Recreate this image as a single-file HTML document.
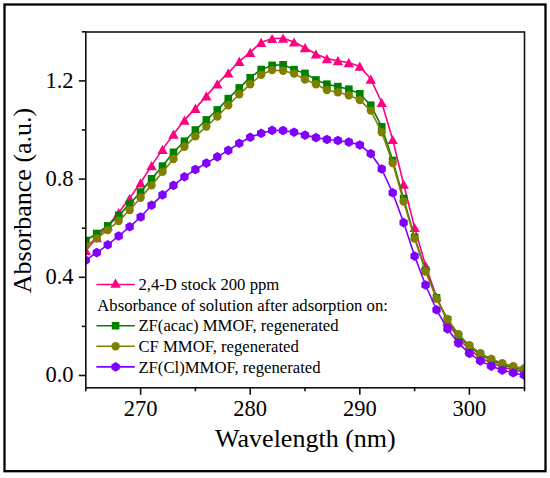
<!DOCTYPE html>
<html><head><meta charset="utf-8"><style>
html,body{margin:0;padding:0;background:#fff;}
svg{display:block;}
text{font-family:"Liberation Serif", serif;fill:#000;}
</style></head><body>
<svg width="550" height="478" viewBox="0 0 550 478">
<rect x="0" y="0" width="550" height="478" fill="#fff"/>
<rect x="4.5" y="4.5" width="541" height="466.7" fill="none" stroke="#000" stroke-width="2.3"/>
<defs><clipPath id="pc"><rect x="85.8" y="32.0" width="438.7" height="355.8"/></clipPath></defs>
<g clip-path="url(#pc)">
<polyline points="85.80,250.40 96.76,237.70 107.72,226.00 118.68,212.60 129.64,198.30 140.60,182.80 151.56,165.60 162.52,149.40 173.48,134.20 184.44,120.10 195.40,108.40 206.36,95.90 217.32,83.80 228.28,72.90 239.24,61.30 250.20,52.30 261.16,42.40 272.12,38.50 283.08,38.20 294.04,42.00 305.00,47.70 315.96,54.00 326.92,58.60 337.88,60.70 348.84,62.70 359.80,66.20 370.76,79.10 381.72,102.50 392.68,139.50 403.64,184.20 414.60,227.50 425.56,265.50 436.52,297.00 447.48,321.50 458.44,338.50 469.40,349.50 480.36,357.50 491.32,363.00 502.28,367.10 513.24,369.60 524.20,372.10" fill="none" stroke="#ff0080" stroke-width="1.6" stroke-linejoin="round"/>
<path d="M85.80,245.80L91.00,255.00L80.60,255.00Z" fill="#ff0080"/>
<path d="M96.76,233.10L101.96,242.30L91.56,242.30Z" fill="#ff0080"/>
<path d="M107.72,221.40L112.92,230.60L102.52,230.60Z" fill="#ff0080"/>
<path d="M118.68,208.00L123.88,217.20L113.48,217.20Z" fill="#ff0080"/>
<path d="M129.64,193.70L134.84,202.90L124.44,202.90Z" fill="#ff0080"/>
<path d="M140.60,178.20L145.80,187.40L135.40,187.40Z" fill="#ff0080"/>
<path d="M151.56,161.00L156.76,170.20L146.36,170.20Z" fill="#ff0080"/>
<path d="M162.52,144.80L167.72,154.00L157.32,154.00Z" fill="#ff0080"/>
<path d="M173.48,129.60L178.68,138.80L168.28,138.80Z" fill="#ff0080"/>
<path d="M184.44,115.50L189.64,124.70L179.24,124.70Z" fill="#ff0080"/>
<path d="M195.40,103.80L200.60,113.00L190.20,113.00Z" fill="#ff0080"/>
<path d="M206.36,91.30L211.56,100.50L201.16,100.50Z" fill="#ff0080"/>
<path d="M217.32,79.20L222.52,88.40L212.12,88.40Z" fill="#ff0080"/>
<path d="M228.28,68.30L233.48,77.50L223.08,77.50Z" fill="#ff0080"/>
<path d="M239.24,56.70L244.44,65.90L234.04,65.90Z" fill="#ff0080"/>
<path d="M250.20,47.70L255.40,56.90L245.00,56.90Z" fill="#ff0080"/>
<path d="M261.16,37.80L266.36,47.00L255.96,47.00Z" fill="#ff0080"/>
<path d="M272.12,33.90L277.32,43.10L266.92,43.10Z" fill="#ff0080"/>
<path d="M283.08,33.60L288.28,42.80L277.88,42.80Z" fill="#ff0080"/>
<path d="M294.04,37.40L299.24,46.60L288.84,46.60Z" fill="#ff0080"/>
<path d="M305.00,43.10L310.20,52.30L299.80,52.30Z" fill="#ff0080"/>
<path d="M315.96,49.40L321.16,58.60L310.76,58.60Z" fill="#ff0080"/>
<path d="M326.92,54.00L332.12,63.20L321.72,63.20Z" fill="#ff0080"/>
<path d="M337.88,56.10L343.08,65.30L332.68,65.30Z" fill="#ff0080"/>
<path d="M348.84,58.10L354.04,67.30L343.64,67.30Z" fill="#ff0080"/>
<path d="M359.80,61.60L365.00,70.80L354.60,70.80Z" fill="#ff0080"/>
<path d="M370.76,74.50L375.96,83.70L365.56,83.70Z" fill="#ff0080"/>
<path d="M381.72,97.90L386.92,107.10L376.52,107.10Z" fill="#ff0080"/>
<path d="M392.68,134.90L397.88,144.10L387.48,144.10Z" fill="#ff0080"/>
<path d="M403.64,179.60L408.84,188.80L398.44,188.80Z" fill="#ff0080"/>
<path d="M414.60,222.90L419.80,232.10L409.40,232.10Z" fill="#ff0080"/>
<path d="M425.56,260.90L430.76,270.10L420.36,270.10Z" fill="#ff0080"/>
<path d="M436.52,292.40L441.72,301.60L431.32,301.60Z" fill="#ff0080"/>
<path d="M447.48,316.90L452.68,326.10L442.28,326.10Z" fill="#ff0080"/>
<path d="M458.44,333.90L463.64,343.10L453.24,343.10Z" fill="#ff0080"/>
<path d="M469.40,344.90L474.60,354.10L464.20,354.10Z" fill="#ff0080"/>
<path d="M480.36,352.90L485.56,362.10L475.16,362.10Z" fill="#ff0080"/>
<path d="M491.32,358.40L496.52,367.60L486.12,367.60Z" fill="#ff0080"/>
<path d="M502.28,362.50L507.48,371.70L497.08,371.70Z" fill="#ff0080"/>
<path d="M513.24,365.00L518.44,374.20L508.04,374.20Z" fill="#ff0080"/>
<path d="M524.20,367.50L529.40,376.70L519.00,376.70Z" fill="#ff0080"/>
<polyline points="85.80,240.50 96.76,233.50 107.72,225.90 118.68,215.40 129.64,204.00 140.60,192.00 151.56,178.80 162.52,166.10 173.48,152.30 184.44,141.20 195.40,130.00 206.36,119.90 217.32,109.90 228.28,98.60 239.24,87.90 250.20,77.70 261.16,69.50 272.12,65.40 283.08,64.80 294.04,69.60 305.00,73.40 315.96,79.90 326.92,84.20 337.88,86.60 348.84,89.20 359.80,93.80 370.76,105.20 381.72,126.80 392.68,160.50 403.64,198.60 414.60,237.30 425.56,270.30 436.52,297.80 447.48,319.80 458.44,335.70 469.40,346.70 480.36,354.60 491.32,360.40 502.28,364.70 513.24,367.70 524.20,370.00" fill="none" stroke="#008000" stroke-width="1.6" stroke-linejoin="round"/>
<rect x="82.00" y="236.70" width="7.6" height="7.6" fill="#008000"/>
<rect x="92.96" y="229.70" width="7.6" height="7.6" fill="#008000"/>
<rect x="103.92" y="222.10" width="7.6" height="7.6" fill="#008000"/>
<rect x="114.88" y="211.60" width="7.6" height="7.6" fill="#008000"/>
<rect x="125.84" y="200.20" width="7.6" height="7.6" fill="#008000"/>
<rect x="136.80" y="188.20" width="7.6" height="7.6" fill="#008000"/>
<rect x="147.76" y="175.00" width="7.6" height="7.6" fill="#008000"/>
<rect x="158.72" y="162.30" width="7.6" height="7.6" fill="#008000"/>
<rect x="169.68" y="148.50" width="7.6" height="7.6" fill="#008000"/>
<rect x="180.64" y="137.40" width="7.6" height="7.6" fill="#008000"/>
<rect x="191.60" y="126.20" width="7.6" height="7.6" fill="#008000"/>
<rect x="202.56" y="116.10" width="7.6" height="7.6" fill="#008000"/>
<rect x="213.52" y="106.10" width="7.6" height="7.6" fill="#008000"/>
<rect x="224.48" y="94.80" width="7.6" height="7.6" fill="#008000"/>
<rect x="235.44" y="84.10" width="7.6" height="7.6" fill="#008000"/>
<rect x="246.40" y="73.90" width="7.6" height="7.6" fill="#008000"/>
<rect x="257.36" y="65.70" width="7.6" height="7.6" fill="#008000"/>
<rect x="268.32" y="61.60" width="7.6" height="7.6" fill="#008000"/>
<rect x="279.28" y="61.00" width="7.6" height="7.6" fill="#008000"/>
<rect x="290.24" y="65.80" width="7.6" height="7.6" fill="#008000"/>
<rect x="301.20" y="69.60" width="7.6" height="7.6" fill="#008000"/>
<rect x="312.16" y="76.10" width="7.6" height="7.6" fill="#008000"/>
<rect x="323.12" y="80.40" width="7.6" height="7.6" fill="#008000"/>
<rect x="334.08" y="82.80" width="7.6" height="7.6" fill="#008000"/>
<rect x="345.04" y="85.40" width="7.6" height="7.6" fill="#008000"/>
<rect x="356.00" y="90.00" width="7.6" height="7.6" fill="#008000"/>
<rect x="366.96" y="101.40" width="7.6" height="7.6" fill="#008000"/>
<rect x="377.92" y="123.00" width="7.6" height="7.6" fill="#008000"/>
<rect x="388.88" y="156.70" width="7.6" height="7.6" fill="#008000"/>
<rect x="399.84" y="194.80" width="7.6" height="7.6" fill="#008000"/>
<rect x="410.80" y="233.50" width="7.6" height="7.6" fill="#008000"/>
<rect x="421.76" y="266.50" width="7.6" height="7.6" fill="#008000"/>
<rect x="432.72" y="294.00" width="7.6" height="7.6" fill="#008000"/>
<rect x="443.68" y="316.00" width="7.6" height="7.6" fill="#008000"/>
<rect x="454.64" y="331.90" width="7.6" height="7.6" fill="#008000"/>
<rect x="465.60" y="342.90" width="7.6" height="7.6" fill="#008000"/>
<rect x="476.56" y="350.80" width="7.6" height="7.6" fill="#008000"/>
<rect x="487.52" y="356.60" width="7.6" height="7.6" fill="#008000"/>
<rect x="498.48" y="360.90" width="7.6" height="7.6" fill="#008000"/>
<rect x="509.44" y="363.90" width="7.6" height="7.6" fill="#008000"/>
<rect x="520.40" y="366.20" width="7.6" height="7.6" fill="#008000"/>
<polyline points="85.80,245.90 96.76,238.40 107.72,230.10 118.68,221.00 129.64,210.00 140.60,197.80 151.56,185.40 162.52,171.90 173.48,159.00 184.44,146.80 195.40,136.40 206.36,126.60 217.32,116.50 228.28,105.20 239.24,94.30 250.20,84.30 261.16,74.80 272.12,70.10 283.08,70.70 294.04,73.60 305.00,79.50 315.96,84.30 326.92,90.00 337.88,92.30 348.84,95.20 359.80,100.10 370.76,110.60 381.72,132.20 392.68,163.00 403.64,201.50 414.60,238.60 425.56,271.50 436.52,298.80 447.48,319.00 458.44,334.30 469.40,345.20 480.36,353.20 491.32,358.90 502.28,363.30 513.24,366.20 524.20,368.50" fill="none" stroke="#808000" stroke-width="1.6" stroke-linejoin="round"/>
<circle cx="85.80" cy="245.90" r="4.2" fill="#808000"/>
<circle cx="96.76" cy="238.40" r="4.2" fill="#808000"/>
<circle cx="107.72" cy="230.10" r="4.2" fill="#808000"/>
<circle cx="118.68" cy="221.00" r="4.2" fill="#808000"/>
<circle cx="129.64" cy="210.00" r="4.2" fill="#808000"/>
<circle cx="140.60" cy="197.80" r="4.2" fill="#808000"/>
<circle cx="151.56" cy="185.40" r="4.2" fill="#808000"/>
<circle cx="162.52" cy="171.90" r="4.2" fill="#808000"/>
<circle cx="173.48" cy="159.00" r="4.2" fill="#808000"/>
<circle cx="184.44" cy="146.80" r="4.2" fill="#808000"/>
<circle cx="195.40" cy="136.40" r="4.2" fill="#808000"/>
<circle cx="206.36" cy="126.60" r="4.2" fill="#808000"/>
<circle cx="217.32" cy="116.50" r="4.2" fill="#808000"/>
<circle cx="228.28" cy="105.20" r="4.2" fill="#808000"/>
<circle cx="239.24" cy="94.30" r="4.2" fill="#808000"/>
<circle cx="250.20" cy="84.30" r="4.2" fill="#808000"/>
<circle cx="261.16" cy="74.80" r="4.2" fill="#808000"/>
<circle cx="272.12" cy="70.10" r="4.2" fill="#808000"/>
<circle cx="283.08" cy="70.70" r="4.2" fill="#808000"/>
<circle cx="294.04" cy="73.60" r="4.2" fill="#808000"/>
<circle cx="305.00" cy="79.50" r="4.2" fill="#808000"/>
<circle cx="315.96" cy="84.30" r="4.2" fill="#808000"/>
<circle cx="326.92" cy="90.00" r="4.2" fill="#808000"/>
<circle cx="337.88" cy="92.30" r="4.2" fill="#808000"/>
<circle cx="348.84" cy="95.20" r="4.2" fill="#808000"/>
<circle cx="359.80" cy="100.10" r="4.2" fill="#808000"/>
<circle cx="370.76" cy="110.60" r="4.2" fill="#808000"/>
<circle cx="381.72" cy="132.20" r="4.2" fill="#808000"/>
<circle cx="392.68" cy="163.00" r="4.2" fill="#808000"/>
<circle cx="403.64" cy="201.50" r="4.2" fill="#808000"/>
<circle cx="414.60" cy="238.60" r="4.2" fill="#808000"/>
<circle cx="425.56" cy="271.50" r="4.2" fill="#808000"/>
<circle cx="436.52" cy="298.80" r="4.2" fill="#808000"/>
<circle cx="447.48" cy="319.00" r="4.2" fill="#808000"/>
<circle cx="458.44" cy="334.30" r="4.2" fill="#808000"/>
<circle cx="469.40" cy="345.20" r="4.2" fill="#808000"/>
<circle cx="480.36" cy="353.20" r="4.2" fill="#808000"/>
<circle cx="491.32" cy="358.90" r="4.2" fill="#808000"/>
<circle cx="502.28" cy="363.30" r="4.2" fill="#808000"/>
<circle cx="513.24" cy="366.20" r="4.2" fill="#808000"/>
<circle cx="524.20" cy="368.50" r="4.2" fill="#808000"/>
<polyline points="85.80,260.20 96.76,252.60 107.72,244.80 118.68,236.00 129.64,226.80 140.60,217.00 151.56,205.20 162.52,194.90 173.48,185.40 184.44,176.80 195.40,169.50 206.36,163.10 217.32,156.90 228.28,150.40 239.24,143.30 250.20,137.30 261.16,133.30 272.12,130.40 283.08,130.50 294.04,132.20 305.00,135.10 315.96,137.60 326.92,139.50 337.88,140.50 348.84,142.10 359.80,145.00 370.76,153.70 381.72,169.00 392.68,192.80 403.64,222.60 414.60,256.10 425.56,285.00 436.52,309.80 447.48,328.90 458.44,343.10 469.40,353.40 480.36,360.90 491.32,366.10 502.28,370.20 513.24,372.80 524.20,375.20" fill="none" stroke="#8000ff" stroke-width="1.6" stroke-linejoin="round"/>
<polygon points="85.80,255.40 89.96,257.80 89.96,262.60 85.80,265.00 81.64,262.60 81.64,257.80" fill="#8000ff"/>
<polygon points="96.76,247.80 100.92,250.20 100.92,255.00 96.76,257.40 92.60,255.00 92.60,250.20" fill="#8000ff"/>
<polygon points="107.72,240.00 111.88,242.40 111.88,247.20 107.72,249.60 103.56,247.20 103.56,242.40" fill="#8000ff"/>
<polygon points="118.68,231.20 122.84,233.60 122.84,238.40 118.68,240.80 114.52,238.40 114.52,233.60" fill="#8000ff"/>
<polygon points="129.64,222.00 133.80,224.40 133.80,229.20 129.64,231.60 125.48,229.20 125.48,224.40" fill="#8000ff"/>
<polygon points="140.60,212.20 144.76,214.60 144.76,219.40 140.60,221.80 136.44,219.40 136.44,214.60" fill="#8000ff"/>
<polygon points="151.56,200.40 155.72,202.80 155.72,207.60 151.56,210.00 147.40,207.60 147.40,202.80" fill="#8000ff"/>
<polygon points="162.52,190.10 166.68,192.50 166.68,197.30 162.52,199.70 158.36,197.30 158.36,192.50" fill="#8000ff"/>
<polygon points="173.48,180.60 177.64,183.00 177.64,187.80 173.48,190.20 169.32,187.80 169.32,183.00" fill="#8000ff"/>
<polygon points="184.44,172.00 188.60,174.40 188.60,179.20 184.44,181.60 180.28,179.20 180.28,174.40" fill="#8000ff"/>
<polygon points="195.40,164.70 199.56,167.10 199.56,171.90 195.40,174.30 191.24,171.90 191.24,167.10" fill="#8000ff"/>
<polygon points="206.36,158.30 210.52,160.70 210.52,165.50 206.36,167.90 202.20,165.50 202.20,160.70" fill="#8000ff"/>
<polygon points="217.32,152.10 221.48,154.50 221.48,159.30 217.32,161.70 213.16,159.30 213.16,154.50" fill="#8000ff"/>
<polygon points="228.28,145.60 232.44,148.00 232.44,152.80 228.28,155.20 224.12,152.80 224.12,148.00" fill="#8000ff"/>
<polygon points="239.24,138.50 243.40,140.90 243.40,145.70 239.24,148.10 235.08,145.70 235.08,140.90" fill="#8000ff"/>
<polygon points="250.20,132.50 254.36,134.90 254.36,139.70 250.20,142.10 246.04,139.70 246.04,134.90" fill="#8000ff"/>
<polygon points="261.16,128.50 265.32,130.90 265.32,135.70 261.16,138.10 257.00,135.70 257.00,130.90" fill="#8000ff"/>
<polygon points="272.12,125.60 276.28,128.00 276.28,132.80 272.12,135.20 267.96,132.80 267.96,128.00" fill="#8000ff"/>
<polygon points="283.08,125.70 287.24,128.10 287.24,132.90 283.08,135.30 278.92,132.90 278.92,128.10" fill="#8000ff"/>
<polygon points="294.04,127.40 298.20,129.80 298.20,134.60 294.04,137.00 289.88,134.60 289.88,129.80" fill="#8000ff"/>
<polygon points="305.00,130.30 309.16,132.70 309.16,137.50 305.00,139.90 300.84,137.50 300.84,132.70" fill="#8000ff"/>
<polygon points="315.96,132.80 320.12,135.20 320.12,140.00 315.96,142.40 311.80,140.00 311.80,135.20" fill="#8000ff"/>
<polygon points="326.92,134.70 331.08,137.10 331.08,141.90 326.92,144.30 322.76,141.90 322.76,137.10" fill="#8000ff"/>
<polygon points="337.88,135.70 342.04,138.10 342.04,142.90 337.88,145.30 333.72,142.90 333.72,138.10" fill="#8000ff"/>
<polygon points="348.84,137.30 353.00,139.70 353.00,144.50 348.84,146.90 344.68,144.50 344.68,139.70" fill="#8000ff"/>
<polygon points="359.80,140.20 363.96,142.60 363.96,147.40 359.80,149.80 355.64,147.40 355.64,142.60" fill="#8000ff"/>
<polygon points="370.76,148.90 374.92,151.30 374.92,156.10 370.76,158.50 366.60,156.10 366.60,151.30" fill="#8000ff"/>
<polygon points="381.72,164.20 385.88,166.60 385.88,171.40 381.72,173.80 377.56,171.40 377.56,166.60" fill="#8000ff"/>
<polygon points="392.68,188.00 396.84,190.40 396.84,195.20 392.68,197.60 388.52,195.20 388.52,190.40" fill="#8000ff"/>
<polygon points="403.64,217.80 407.80,220.20 407.80,225.00 403.64,227.40 399.48,225.00 399.48,220.20" fill="#8000ff"/>
<polygon points="414.60,251.30 418.76,253.70 418.76,258.50 414.60,260.90 410.44,258.50 410.44,253.70" fill="#8000ff"/>
<polygon points="425.56,280.20 429.72,282.60 429.72,287.40 425.56,289.80 421.40,287.40 421.40,282.60" fill="#8000ff"/>
<polygon points="436.52,305.00 440.68,307.40 440.68,312.20 436.52,314.60 432.36,312.20 432.36,307.40" fill="#8000ff"/>
<polygon points="447.48,324.10 451.64,326.50 451.64,331.30 447.48,333.70 443.32,331.30 443.32,326.50" fill="#8000ff"/>
<polygon points="458.44,338.30 462.60,340.70 462.60,345.50 458.44,347.90 454.28,345.50 454.28,340.70" fill="#8000ff"/>
<polygon points="469.40,348.60 473.56,351.00 473.56,355.80 469.40,358.20 465.24,355.80 465.24,351.00" fill="#8000ff"/>
<polygon points="480.36,356.10 484.52,358.50 484.52,363.30 480.36,365.70 476.20,363.30 476.20,358.50" fill="#8000ff"/>
<polygon points="491.32,361.30 495.48,363.70 495.48,368.50 491.32,370.90 487.16,368.50 487.16,363.70" fill="#8000ff"/>
<polygon points="502.28,365.40 506.44,367.80 506.44,372.60 502.28,375.00 498.12,372.60 498.12,367.80" fill="#8000ff"/>
<polygon points="513.24,368.00 517.40,370.40 517.40,375.20 513.24,377.60 509.08,375.20 509.08,370.40" fill="#8000ff"/>
<polygon points="524.20,370.40 528.36,372.80 528.36,377.60 524.20,380.00 520.04,377.60 520.04,372.80" fill="#8000ff"/>
</g>
<g stroke="#111" stroke-width="1.6" stroke-linecap="butt">
<rect x="85.8" y="32.0" width="438.7" height="355.8" fill="none"/>
<line x1="78.80" y1="375.50" x2="85.8" y2="375.50"/>
<line x1="78.80" y1="277.30" x2="85.8" y2="277.30"/>
<line x1="78.80" y1="179.10" x2="85.8" y2="179.10"/>
<line x1="78.80" y1="80.90" x2="85.8" y2="80.90"/>
<line x1="81.80" y1="326.40" x2="85.8" y2="326.40"/>
<line x1="81.80" y1="228.20" x2="85.8" y2="228.20"/>
<line x1="81.80" y1="130.00" x2="85.8" y2="130.00"/>
<line x1="81.80" y1="31.80" x2="85.8" y2="31.80"/>
<line x1="140.60" y1="387.8" x2="140.60" y2="394.80"/>
<line x1="250.20" y1="387.8" x2="250.20" y2="394.80"/>
<line x1="359.80" y1="387.8" x2="359.80" y2="394.80"/>
<line x1="469.40" y1="387.8" x2="469.40" y2="394.80"/>
<line x1="85.80" y1="387.8" x2="85.80" y2="391.30"/>
<line x1="195.40" y1="387.8" x2="195.40" y2="391.30"/>
<line x1="305.00" y1="387.8" x2="305.00" y2="391.30"/>
<line x1="414.60" y1="387.8" x2="414.60" y2="391.30"/>
<line x1="524.50" y1="387.8" x2="524.50" y2="391.30"/>
</g>
<text x="73.6" y="382.20" text-anchor="end" font-size="22.5">0.0</text>
<text x="73.6" y="284.00" text-anchor="end" font-size="22.5">0.4</text>
<text x="73.6" y="185.80" text-anchor="end" font-size="22.5">0.8</text>
<text x="73.6" y="87.60" text-anchor="end" font-size="22.5">1.2</text>
<text x="140.60" y="416.3" text-anchor="middle" font-size="22.5">270</text>
<text x="250.20" y="416.3" text-anchor="middle" font-size="22.5">280</text>
<text x="359.80" y="416.3" text-anchor="middle" font-size="22.5">290</text>
<text x="469.40" y="416.3" text-anchor="middle" font-size="22.5">300</text>
<text x="305.4" y="446.5" text-anchor="middle" font-size="26">Wavelength (nm)</text>
<text transform="translate(31.4,200.5) rotate(-90)" text-anchor="middle" font-size="26">Absorbance (a.u.)</text>
<line x1="96.4" y1="284.50" x2="134.8" y2="284.50" stroke="#ff0080" stroke-width="1.6"/>
<path d="M115.60,278.50L120.80,287.70L110.40,287.70Z" fill="#ff0080"/>
<text x="138.4" y="290.2" font-size="16.7">2,4-D stock 200 ppm</text>
<text x="97.3" y="310.8" font-size="16.7">Absorbance of solution after adsorption on:</text>
<line x1="96.4" y1="325.70" x2="134.8" y2="325.70" stroke="#008000" stroke-width="1.6"/>
<rect x="111.80" y="321.90" width="7.6" height="7.6" fill="#008000"/>
<text x="138.4" y="331.4" font-size="16.7">ZF(acac) MMOF, regenerated</text>
<line x1="96.4" y1="346.30" x2="134.8" y2="346.30" stroke="#808000" stroke-width="1.6"/>
<circle cx="115.60" cy="346.30" r="4.2" fill="#808000"/>
<text x="138.4" y="352.0" font-size="16.7">CF MMOF, regenerated</text>
<line x1="96.4" y1="366.90" x2="134.8" y2="366.90" stroke="#8000ff" stroke-width="1.6"/>
<polygon points="115.60,362.10 119.76,364.50 119.76,369.30 115.60,371.70 111.44,369.30 111.44,364.50" fill="#8000ff"/>
<text x="138.4" y="372.6" font-size="16.7">ZF(Cl)MMOF, regenerated</text>
</svg>
</body></html>
